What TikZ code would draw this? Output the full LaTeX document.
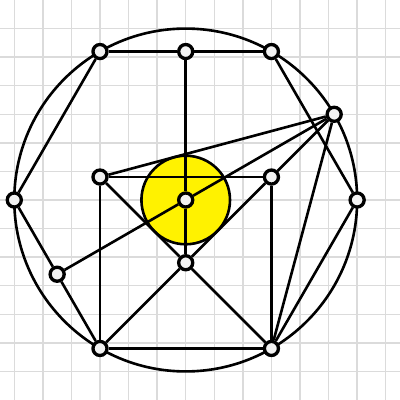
\documentclass[tikz,border=0pt]{standalone}
\usetikzlibrary{calc}

\begin{document}
\begin{tikzpicture}[line width=2.6pt,
   vertex/.style={circle,draw,fill=gray!10,line width=3.3pt,minimum size=14pt,inner sep=0pt}]

   \useasboundingbox (-6.5,-7) rectangle (7.5,7);
   \draw[gray!28,line width=1.5pt] (-6.5,-6.99) grid (7.5,6.99);

   \draw (0,0) circle (6);
   \draw[fill=yellow] (0,0) circle (1.55);

   \node[vertex] (a_0)  at (0:6)   {};
   \node[vertex] (a_1)  at (30:6)  {};
   \node[vertex] (a_2)  at (60:6)  {};
   \node[vertex] (a_4)  at (120:6) {};
   \node[vertex] (a_6)  at (180:6) {};
   \node[vertex] (a_8)  at (240:6) {};
   \node[vertex] (a_10) at (300:6) {};
   \node[vertex] (n_t) at (0,{3*sqrt(3)}) {};
   \node[vertex] (n_m) at ($(a_6)!0.5!(a_8)$) {};
   \node[vertex] (s_l) at (-3,{6-3*sqrt(3)}) {};
   \node[vertex] (s_r) at (3,{6-3*sqrt(3)}) {};
   \node[vertex] (c)   at (0,0) {};
   \node[vertex] (s_c) at (0,{3-3*sqrt(3)}) {};

   \path
    (a_4) edge (n_t)
    (n_t) edge (a_2)
    (n_t) edge (c)
    (c) edge (s_c)
    (a_4) edge (a_6)
    (a_2) edge (a_0)
    (a_6) edge (n_m)
    (n_m) edge (a_8)
    (a_1) edge (s_l)
    (a_1) edge (c)
    (c) edge (n_m)
    (a_1) edge (s_r)
    (a_1) edge (a_10)
    (a_0) edge (a_10)
    (s_l) edge (s_r)
    (s_r) edge (a_10)
    (a_10) edge (a_8)
    (a_8) edge (s_l)
    (s_l) edge (s_c)
    (s_c) edge (a_10)
    (s_r) edge (s_c)
    (s_c) edge (a_8);

\end{tikzpicture}
\end{document}
